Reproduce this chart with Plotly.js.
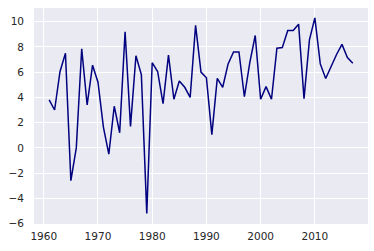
<!DOCTYPE html>
<html>
<head>
<meta charset="utf-8">
<script src="https://cdn.plot.ly/plotly-3.0.1.min.js"></script>
<style>html,body{margin:0;padding:0;background:#fff;}#chart{width:374px;height:251px;}</style>
</head>
<body>
<div id="chart"></div>
<script>
const startYear = 1961;
const endYear = 2017;
const years = [];
for (let y = startYear; y <= endYear; y++) years.push(y);
const values = [
  3.8, 3.0, 6.05, 7.5, -2.6, 0.0, 7.85, 3.4, 6.55, 5.2,
  1.65, -0.5, 3.3, 1.2, 9.2, 1.7, 7.3, 5.8, -5.2, 6.75,
  6.05, 3.5, 7.35, 3.85, 5.3, 4.8, 4.0, 9.7, 6.0, 5.55,
  1.05, 5.5, 4.8, 6.65, 7.6, 7.6, 4.05, 6.75, 8.9, 3.85,
  4.85, 3.85, 7.9, 7.95, 9.3, 9.3, 9.8, 3.9, 8.55, 10.3,
  6.65, 5.5, 6.45, 7.4, 8.2, 7.15, 6.7
];
const yTicks = [-6, -4, -2, 0, 2, 4, 6, 8, 10];
const xTicks = [1960, 1970, 1980, 1990, 2000, 2010];

const trace = {
  x: years, y: values, type: 'scatter', mode: 'lines',
  line: {color: '#000080', width: 1.5}, hoverinfo: 'none'
};
const font = {family: 'DejaVu Sans', size: 10.5, color: '#262626'};
const layout = {
  width: 374, height: 251,
  margin: {l: 34, r: 6, t: 8, b: 27},
  paper_bgcolor: '#ffffff', plot_bgcolor: '#EAEAF2',
  showlegend: false, font: font,
  xaxis: {range: [1958.2, 2019.8], tickvals: xTicks, ticktext: xTicks.map(String),
          showgrid: true, gridcolor: '#ffffff', gridwidth: 1, zeroline: false,
          showline: false, ticks: '', ticklabelstandoff: 4, tickfont: font},
  yaxis: {range: [-6.03, 11.08], tickvals: yTicks, ticktext: yTicks.map(v => v < 0 ? '\u2212' + Math.abs(v) : String(v)),
          showgrid: true, gridcolor: '#ffffff', gridwidth: 1, zeroline: false,
          showline: false, ticks: '', ticklabelstandoff: 9, tickfont: font}
};
Plotly.newPlot('chart', [trace], layout, {staticPlot: true, displayModeBar: false});
</script>
</body>
</html>
